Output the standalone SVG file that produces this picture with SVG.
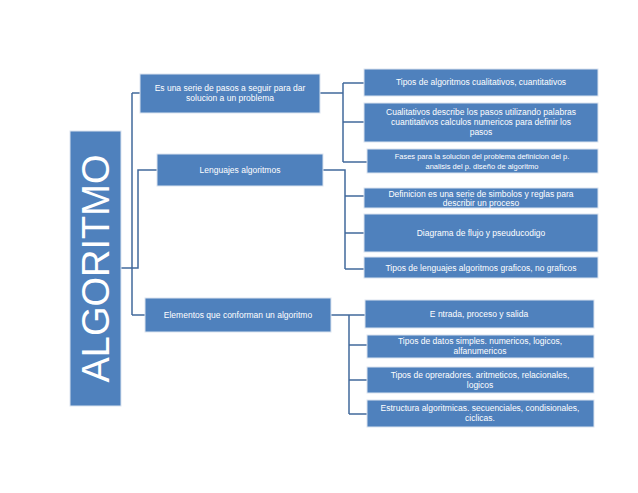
<svg xmlns="http://www.w3.org/2000/svg" width="638" height="493" viewBox="0 0 638 493">
<style>
.b{fill:#4f81bd;stroke:#dbe4f0;stroke-width:1}
.t{fill:#fff;font-family:"Liberation Sans",Arial,sans-serif;font-size:8.5px;text-anchor:middle}
.c{fill:none;stroke:#41699c;stroke-width:1.5}
</style>
<rect width="638" height="493" fill="#fff"/>
<g id="connectors">
<path class="c" d="M121 268H132M132 93V315M132 93H140M132 315H145M132 268H138V170H157"/>
<path class="c" d="M320 93H343M343 83V162M343 83H364M343 122H364M343 162H367"/>
<path class="c" d="M323 170H345V269M345 196H364M345 233H364M345 269H364"/>
<path class="c" d="M331 315H349V414M349 315H365M349 345H367M349 380H367M349 414H367"/>
</g>
<g id="root"><rect class="b" x="70" y="131" width="51" height="275"/>
<text transform="translate(109 268.5) rotate(-90)" style="fill:#fff;font-family:'Liberation Sans',Arial,sans-serif;font-size:38px;text-anchor:middle">ALGORITMO</text></g>
<g id="n1"><rect class="b" x="140" y="74" width="180" height="39"/><text class="t" x="230" y="91">Es una serie de pasos a seguir para dar</text><text class="t" x="230" y="101">solucion a un problema</text></g>
<g id="n2"><rect class="b" x="157" y="154" width="166" height="32"/><text class="t" x="240" y="173">Lenguajes algoritmos</text></g>
<g id="n3"><rect class="b" x="145" y="298" width="186" height="34"/><text class="t" x="238" y="318">Elementos que conforman un algoritmo</text></g>
<g id="r1"><rect class="b" x="364" y="69" width="234" height="27"/><text class="t" x="481" y="85">Tipos de algoritmos  cualitativos, cuantitativos</text></g>
<g id="r2"><rect class="b" x="364" y="103" width="234" height="39"/><text class="t" x="481" y="115">Cualitativos  describe los pasos utilizando  palabras</text><text class="t" x="481" y="125">cuantitativos  calculos  numericos para definir los</text><text class="t" x="481" y="135">pasos</text></g>
<g id="r3"><rect class="b" x="367" y="149" width="231" height="24"/><text class="t" x="482" y="159" style="font-size:7.5px">Fases para la solucion del problema definicion del p.</text><text class="t" x="482" y="169" style="font-size:7.5px">analisis del p. diseño de algoritmo</text></g>
<g id="r4"><rect class="b" x="364" y="188" width="234" height="20"/><text class="t" x="481" y="197">Definicion es una serie de simbolos y reglas  para</text><text class="t" x="481" y="206">describir un proceso</text></g>
<g id="r5"><rect class="b" x="364" y="214" width="234" height="38"/><text class="t" x="481" y="236">Diagrama de flujo y  pseuducodigo</text></g>
<g id="r6"><rect class="b" x="364" y="257" width="234" height="21"/><text class="t" x="481" y="271">Tipos de lenguajes  algoritmos  graficos, no graficos</text></g>
<g id="r7"><rect class="b" x="365" y="300" width="229" height="28"/><text class="t" x="479" y="317">E ntrada, proceso y salida</text></g>
<g id="r8"><rect class="b" x="367" y="335" width="227" height="23"/><text class="t" x="480" y="344">Tipos de datos simples. numericos, logicos,</text><text class="t" x="480" y="354">alfanumericos</text></g>
<g id="r9"><rect class="b" x="367" y="367" width="227" height="26"/><text class="t" x="480" y="378">Tipos de opreradores. aritmeticos, relacionales,</text><text class="t" x="480" y="388">logicos</text></g>
<g id="r10"><rect class="b" x="367" y="400" width="227" height="27"/><text class="t" x="480" y="411">Estructura algoritmicas. secuenciales, condisionales,</text><text class="t" x="480" y="421">ciclicas.</text></g>
</svg>
